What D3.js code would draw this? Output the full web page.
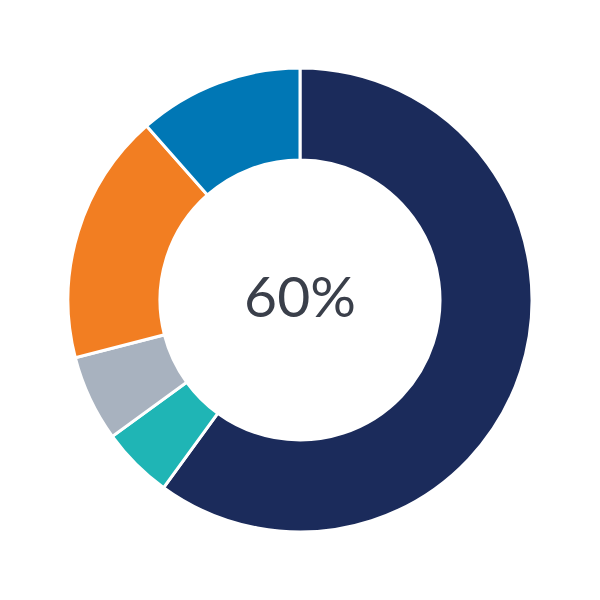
<!DOCTYPE html>
<html>
<head>
<meta charset="utf-8">
<script src="https://cdn.jsdelivr.net/npm/d3@7"></script>
<style>
  body { margin: 0; background: #fff; }
</style>
</head>
<body>
<svg class="chart" width="600" height="600"></svg>
<script>
var categories = ['A', 'B', 'C', 'D', 'E'];
var values = [60, 5, 6, 17.5, 11.5];
var colors = ['#1b2b5b', '#1fb5b5', '#a8b2bf', '#f27e22', '#0077b5'];
var centerLabel = '60%';

(function() {
    var p = {};
        p.cx = 300;
        p.cy = 300;
        p.outer = 232;
        p.inner = 140;
        p.stroke = '#ffffff';
        p.strokeWidth = 3;

    var data = categories.map(function(c, i) {
        return { cat: c, value: values[i], color: colors[i] };
    });

    var svg = d3.select('.chart');
    var chart = svg.append('g')
        .attr('transform', 'translate(' + p.cx + ',' + p.cy + ')')
    ;

    var pie = d3.pie()
        .sort(null)
        .value(function(d) { return d.value; })
    ;
    var arc = d3.arc()
        .innerRadius(p.inner)
        .outerRadius(p.outer)
    ;

    chart.selectAll('path.slice')
        .data(pie(data))
        .enter().append('path')
            .attr('class', 'slice')
            .attr('d', arc)
            .attr('fill', function(d) { return d.data.color; })
            .attr('stroke', p.stroke)
            .attr('stroke-width', p.strokeWidth)
    ;

    //-----  Center label  -----//
    chart.append('text')
        .text(centerLabel)
        .attr('x', 0)
        .attr('y', 17)
        .attr('text-anchor', 'middle')
        .attr('font-family', 'Lato, sans-serif')
        .attr('font-weight', 400)
        .attr('font-size', 57)
        .attr('fill', '#3a3f4a')
    ;
})();
</script>
</body>
</html>
